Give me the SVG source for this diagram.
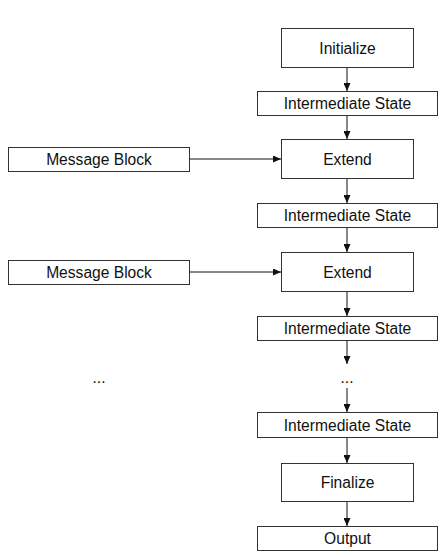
<svg xmlns="http://www.w3.org/2000/svg" width="446" height="557" viewBox="0 0 446 557">
<defs>
<marker id="ah" markerWidth="8" markerHeight="7" refX="8" refY="3.5" orient="auto" markerUnits="userSpaceOnUse">
<path d="M0,0 L8,3.5 L0,7 Z" fill="#111"/>
</marker>
</defs>
<style>
.box{fill:#fff;stroke:#333;stroke-width:1}
.t{font-family:"Liberation Sans",Arial,sans-serif;font-size:15.6px;fill:#111;text-anchor:middle;dominant-baseline:central}
.c{stroke:#111;stroke-width:1;fill:none;marker-end:url(#ah)}
</style>
<rect width="446" height="557" fill="#fff"/>
<g id="connectors">
<line class="c" x1="347" y1="68" x2="347" y2="91"/>
<line class="c" x1="347" y1="115" x2="347" y2="139"/>
<line class="c" x1="190" y1="159" x2="281" y2="159"/>
<line class="c" x1="347" y1="178" x2="347" y2="203"/>
<line class="c" x1="347" y1="228" x2="347" y2="252"/>
<line class="c" x1="190" y1="272" x2="281" y2="272"/>
<line class="c" x1="347" y1="291" x2="347" y2="316"/>
<line class="c" x1="347" y1="341" x2="347" y2="364"/>
<line class="c" x1="347" y1="388" x2="347" y2="412"/>
<line class="c" x1="347" y1="438" x2="347" y2="463"/>
<line class="c" x1="347" y1="502" x2="347" y2="526"/>
</g>
<g id="initialize"><rect class="box" x="281.5" y="28.5" width="132" height="39"/><text class="t" x="347.5" y="48">Initialize</text></g>
<g id="state1"><rect class="box" x="257.5" y="91.5" width="180" height="24"/><text class="t" x="347.5" y="103.5">Intermediate State</text></g>
<g id="msg1"><rect class="box" x="8.5" y="147.5" width="181" height="24"/><text class="t" x="99" y="159.5">Message Block</text></g>
<g id="extend1"><rect class="box" x="281.5" y="139.5" width="132" height="39"/><text class="t" x="347.5" y="159">Extend</text></g>
<g id="state2"><rect class="box" x="257.5" y="203.5" width="180" height="24"/><text class="t" x="347.5" y="215.5">Intermediate State</text></g>
<g id="msg2"><rect class="box" x="8.5" y="260.5" width="181" height="24"/><text class="t" x="99" y="272.5">Message Block</text></g>
<g id="extend2"><rect class="box" x="281.5" y="252.5" width="132" height="39"/><text class="t" x="347.5" y="272">Extend</text></g>
<g id="state3"><rect class="box" x="257.5" y="316.5" width="180" height="24"/><text class="t" x="347.5" y="328.5">Intermediate State</text></g>
<g id="dots-left"><text class="t" x="99" y="377">...</text></g>
<g id="dots-right"><text class="t" x="347" y="377">...</text></g>
<g id="state4"><rect class="box" x="257.5" y="412.5" width="180" height="25"/><text class="t" x="347.5" y="425">Intermediate State</text></g>
<g id="finalize"><rect class="box" x="281.5" y="463.5" width="132" height="38"/><text class="t" x="347.5" y="482.5">Finalize</text></g>
<g id="output"><rect class="box" x="257.5" y="526.5" width="180" height="24"/><text class="t" x="347.5" y="538.5">Output</text></g>
</svg>
